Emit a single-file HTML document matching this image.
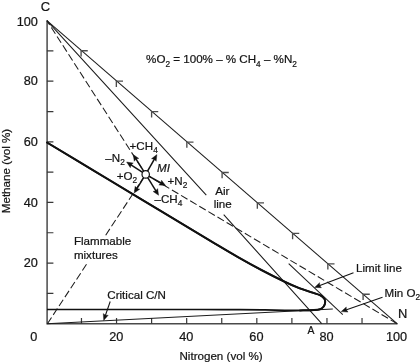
<!DOCTYPE html><html><head><meta charset="utf-8"><title>Flammability diagram</title>
<style>html,body{margin:0;padding:0;background:#fff}svg{display:block}text{font-family:"Liberation Sans",Arial,Helvetica,sans-serif;fill:#141414;stroke:#141414;stroke-width:0.22px}</style></head><body>
<svg width="420" height="363" viewBox="0 0 420 363">
<rect width="420" height="363" fill="#fff"/>
<g stroke="#4a4a4a" stroke-width="1.5" fill="none">
<path d="M47.1 20.4V323.7H397.6"/>
<path d="M46.9 293.39h6.5M46.9 263.08h6.5M46.9 232.77h6.5M46.9 202.46h6.5M46.9 172.15h6.5M46.9 141.84h6.5M46.9 111.53h6.5M46.9 81.22h6.5M46.9 50.91h6.5M81.47 323.7v-5.6M116.54 323.7v-5.6M151.61 323.7v-5.6M186.68 323.7v-5.6M221.75 323.7v-5.6M256.82 323.7v-5.6M291.89 323.7v-5.6M326.96 323.7v-5.6M362.03 323.7v-5.6" stroke-width="1.2" stroke="#383838"/>
</g>
<g stroke="#1c1c1c" stroke-width="1.05" fill="none">
<path d="M46.9 20.6L397.1 323.7"/>
<path d="M46.9 20.6L206.3 195.2M223.7 214.6L321.7 323.7"/>
<path d="M87.75 50.74H81.1V56.54M123 81.18H116.35V86.98M158.25 111.62H151.6V117.42M193.5 142.06H186.85V147.86M228.75 172.5H222.1V178.3M264 202.94H257.35V208.74M299.25 233.38H292.6V239.18M334.5 263.82H327.85V269.62M369.75 294.26H363.1V300.06" stroke="#4c4c4c" stroke-width="1.35" stroke-linejoin="miter"/>
<path d="M288.7 263.7L342.8 314.6"/>
<path d="M46.9 323.7L332.8 309"/>
</g>
<g stroke="#1c1c1c" stroke-width="1.05" fill="none" stroke-dasharray="7.5 3.1">
<path d="M46.9 20.6L145.7 174.4" stroke-dashoffset="2.4"/>
<path d="M47.4 323.7L87.27 263.15"/>
<path d="M105.69 235.17L145.7 174.4"/>
<path d="M397.1 323.7L145.7 174.4"/>
</g>
<path d="M47 142.5C55 147.32 79 161.77 95 171.4C111 181.03 127.17 190.77 143 200.3C158.83 209.83 178.2 221.5 190 228.6C201.8 235.7 205.87 238.18 213.8 242.9C221.73 247.62 229.67 252.38 237.6 256.9C245.53 261.42 253.47 265.82 261.4 270C269.33 274.18 279.1 279.07 285.2 282C291.3 284.93 293.58 285.87 298 287.6C302.42 289.33 308.03 291.13 311.7 292.4C315.37 293.67 317.92 294.17 320 295.2C322.08 296.23 323.33 297.47 324.2 298.6C325.07 299.73 325.28 300.68 325.2 302C325.12 303.32 324.57 305.3 323.7 306.5C322.83 307.7 321.62 308.6 320 309.2C318.38 309.8 317.33 309.9 314 310.1C310.67 310.3 304.83 310.37 300 310.4C295.17 310.43 290.83 310.38 285 310.3C279.17 310.22 272.5 310.01 265 309.9C257.5 309.79 250.83 309.72 240 309.65C229.17 309.58 206.67 309.52 200 309.5L47 309.5" stroke="#111" stroke-width="1.7" fill="none" stroke-linejoin="round"/>
<path d="M47 142.5C55 147.32 79 161.77 95 171.4C111 181.03 127.17 190.77 143 200.3C158.83 209.83 178.2 221.5 190 228.6C201.8 235.7 205.87 238.18 213.8 242.9C221.73 247.62 229.67 252.38 237.6 256.9C245.53 261.42 253.47 265.82 261.4 270C269.33 274.18 279.1 279.07 285.2 282C291.3 284.93 293.58 285.87 298 287.6C302.42 289.33 308.03 291.13 311.7 292.4C315.37 293.67 317.92 294.17 320 295.2C322.08 296.23 323.33 297.47 324.2 298.6C325.07 299.73 325.28 300.68 325.2 302C325.12 303.32 324.57 305.3 323.7 306.5C322.83 307.7 321.62 308.6 320 309.2C318.38 309.8 317.33 309.9 314 310.1C310.67 310.3 302.33 310.35 300 310.4" stroke="#111" stroke-width="2" fill="none" stroke-linejoin="round" stroke-linecap="round"/>
<path d="M145.7 174.4L135.76 158.66" stroke="#111" stroke-width="1.5" fill="none"/><path d="M133.2 154.6L138.79 158.4L136.03 159.08L134.23 161.28Z" fill="#111" stroke="#111" stroke-width="0.4" stroke-linejoin="miter"/>
<path d="M145.7 174.4L154.54 158.78" stroke="#111" stroke-width="1.5" fill="none"/><path d="M156.9 154.6L156.2 161.33L154.29 159.21L151.5 158.67Z" fill="#111" stroke="#111" stroke-width="0.4" stroke-linejoin="miter"/>
<path d="M145.7 174.4L130.63 164.61" stroke="#111" stroke-width="1.5" fill="none"/><path d="M126.6 162L133.27 163.11L131.05 164.89L130.33 167.64Z" fill="#111" stroke="#111" stroke-width="0.4" stroke-linejoin="miter"/>
<path d="M145.7 174.4L161.42 183.25" stroke="#111" stroke-width="1.5" fill="none"/><path d="M165.6 185.6L158.87 184.91L160.98 183L161.52 180.21Z" fill="#111" stroke="#111" stroke-width="0.4" stroke-linejoin="miter"/>
<path d="M145.7 174.4L136.72 188.92" stroke="#111" stroke-width="1.5" fill="none"/><path d="M134.2 193L135.16 186.31L136.99 188.49L139.76 189.15Z" fill="#111" stroke="#111" stroke-width="0.4" stroke-linejoin="miter"/>
<path d="M145.7 174.4L156.08 191.22" stroke="#111" stroke-width="1.5" fill="none"/><path d="M158.6 195.3L153.05 191.44L155.82 190.79L157.64 188.61Z" fill="#111" stroke="#111" stroke-width="0.4" stroke-linejoin="miter"/>
<circle cx="145.7" cy="174.4" r="3.7" fill="#fff" stroke="#111" stroke-width="1.2"/>
<path d="M353.5 272.8L319.19 285.68" stroke="#111" stroke-width="1.05" fill="none"/><path d="M314.6 287.4L319.55 282.66L319.66 285.5L321.45 287.71Z" fill="#111" stroke="#111" stroke-width="0.4" stroke-linejoin="miter"/>
<path d="M382.5 297.3L345.83 310" stroke="#111" stroke-width="1.05" fill="none"/><path d="M341.2 311.6L346.27 306.99L346.3 309.83L348.04 312.09Z" fill="#111" stroke="#111" stroke-width="0.4" stroke-linejoin="miter"/>
<text x="37.8" y="267.38" font-size="12.7" text-anchor="end" >20</text>
<text x="37.8" y="206.96" font-size="12.7" text-anchor="end" >40</text>
<text x="37.8" y="146.04" font-size="12.7" text-anchor="end" >60</text>
<text x="37.8" y="84.92" font-size="12.7" text-anchor="end" >80</text>
<text x="37.8" y="26.2" font-size="12.7" text-anchor="end" >100</text>
<text x="37.2" y="340.9" font-size="12.7" text-anchor="end" >0</text>
<text x="116.34" y="340.6" font-size="12.7" text-anchor="middle" >20</text>
<text x="186.38" y="340.6" font-size="12.7" text-anchor="middle" >40</text>
<text x="256.42" y="340.6" font-size="12.7" text-anchor="middle" >60</text>
<text x="326.46" y="340.6" font-size="12.7" text-anchor="middle" >80</text>
<text x="396.5" y="340.6" font-size="12.7" text-anchor="middle" >100</text>
<text x="40.8" y="11.4" font-size="12.9" text-anchor="start" >C</text>
<text x="397.9" y="318.1" font-size="12.9" text-anchor="start" >N</text>
<text x="307.6" y="334.1" font-size="10.4" text-anchor="start" >A</text>
<text x="179.5" y="359.8" font-size="11.6" text-anchor="start" >Nitrogen (vol %)</text>
<text font-size="11.6" text-anchor="middle" transform="translate(9.6 171) rotate(-90)">Methane (vol %)</text>
<text x="146.1" y="63.3" font-size="11.6" text-anchor="start" >%O<tspan font-size="8.3" dy="3.3">2</tspan><tspan dy="-3.3">&#8203;</tspan> = 100% – % CH<tspan font-size="8.3" dy="3.3">4</tspan><tspan dy="-3.3">&#8203;</tspan> – %N<tspan font-size="8.3" dy="3.3">2</tspan><tspan dy="-3.3">&#8203;</tspan></text>
<text x="356.1" y="271.7" font-size="11.6" text-anchor="start" >Limit line</text>
<text x="384.5" y="296.6" font-size="11.6" text-anchor="start" >Min O<tspan font-size="8.3" dy="3.3">2</tspan><tspan dy="-3.3">&#8203;</tspan></text>
<text x="222.3" y="194.9" font-size="11.6" text-anchor="middle" >Air</text>
<text x="222.7" y="208.4" font-size="11.6" text-anchor="middle" >line</text>
<text x="73.9" y="245.3" font-size="11.6" text-anchor="start" >Flammable</text>
<text x="73.9" y="258.5" font-size="11.6" text-anchor="start" >mixtures</text>
<text x="107.3" y="299.2" font-size="11.6" text-anchor="start" >Critical C/N</text>
<text x="129.6" y="149.5" font-size="11.6" text-anchor="start" >+CH<tspan font-size="8.3" dy="3.3">4</tspan><tspan dy="-3.3">&#8203;</tspan></text>
<text x="105.3" y="162" font-size="11.6" text-anchor="start" >–N<tspan font-size="8.3" dy="3.3">2</tspan><tspan dy="-3.3">&#8203;</tspan></text>
<text x="116.7" y="180.1" font-size="11.6" text-anchor="start" >+O<tspan font-size="8.3" dy="3.3">2</tspan><tspan dy="-3.3">&#8203;</tspan></text>
<text x="167.6" y="185" font-size="11.6" text-anchor="start" >+N<tspan font-size="8.3" dy="3.3">2</tspan><tspan dy="-3.3">&#8203;</tspan></text>
<text x="154.5" y="202.5" font-size="11.6" text-anchor="start" >–CH<tspan font-size="8.3" dy="3.3">4</tspan><tspan dy="-3.3">&#8203;</tspan></text>
<text x="157" y="172" font-size="11.6" text-anchor="start" font-style="italic">MI</text>
<path d="M110.2 301.5L105.29 315.77" stroke="#111" stroke-width="1.05" fill="none"/><path d="M103.7 320.4L103.29 313.6L105.46 315.29L108.21 315.29Z" fill="#111" stroke="#111" stroke-width="0.4" stroke-linejoin="miter"/>
</svg></body></html>
